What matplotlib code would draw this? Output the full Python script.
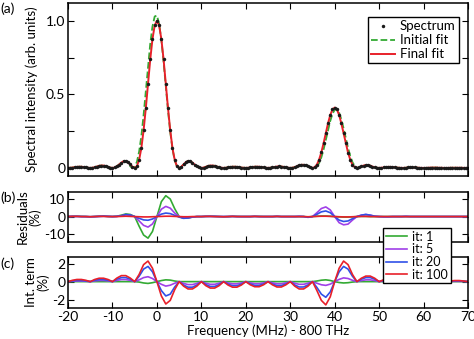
import numpy as np
import matplotlib
matplotlib.use('Agg')
import matplotlib.pyplot as plt

plt.rcParams['font.family'] = ['Lato', 'DejaVu Sans']
plt.rcParams['font.size'] = 9.5
plt.rcParams['axes.unicode_minus'] = False

# spectrum sampled every 0.5 MHz, -20 .. 70
freq_fine = np.arange(-20, 70.5, 0.5)
spectrum = [
    0.000, 0.001, 0.002, 0.005, 0.007, 0.008, 0.008, 0.006, 0.003, 0.001,
    0.000, 0.001, 0.005, 0.009, 0.014, 0.016, 0.016, 0.013, 0.007, 0.002,
    0.000, 0.003, 0.011, 0.023, 0.036, 0.045, 0.047, 0.039, 0.024, 0.008,
    0.000, 0.012, 0.055, 0.135, 0.255, 0.405, 0.573, 0.737, 0.875, 0.968,
    1.000, 0.968, 0.875, 0.737, 0.573, 0.405, 0.255, 0.135, 0.055, 0.012,
    0.000, 0.008, 0.024, 0.039, 0.047, 0.045, 0.036, 0.023, 0.011, 0.003,
    0.000, 0.002, 0.007, 0.013, 0.016, 0.016, 0.014, 0.009, 0.005, 0.001,
    0.000, 0.001, 0.003, 0.006, 0.008, 0.008, 0.007, 0.005, 0.002, 0.001,
    0.000, 0.001, 0.003, 0.006, 0.008, 0.008, 0.008, 0.006, 0.003, 0.001,
    0.000, 0.001, 0.003, 0.006, 0.009, 0.010, 0.009, 0.007, 0.004, 0.001,
    0.000, 0.001, 0.005, 0.011, 0.017, 0.021, 0.021, 0.018, 0.011, 0.004,
    0.000, 0.005, 0.023, 0.057, 0.106, 0.168, 0.236, 0.303, 0.359, 0.397,
    0.410, 0.397, 0.359, 0.302, 0.235, 0.166, 0.104, 0.056, 0.022, 0.005,
    0.000, 0.003, 0.010, 0.016, 0.019, 0.019, 0.015, 0.009, 0.004, 0.001,
    0.000, 0.001, 0.003, 0.005, 0.007, 0.007, 0.006, 0.004, 0.002, 0.001,
    0.000, 0.000, 0.001, 0.003, 0.003, 0.003, 0.003, 0.002, 0.001, 0.000,
    0.000, 0.000, 0.001, 0.002, 0.002, 0.002, 0.002, 0.001, 0.001, 0.000,
    0.000, 0.000, 0.001, 0.001, 0.001, 0.001, 0.001, 0.001, 0.000, 0.000,
    0.000]

initial_fit = [
    0.000, 0.001, 0.002, 0.005, 0.007, 0.008, 0.008, 0.006, 0.003, 0.001,
    0.000, 0.001, 0.005, 0.009, 0.014, 0.016, 0.016, 0.013, 0.007, 0.002,
    0.000, 0.003, 0.011, 0.023, 0.036, 0.045, 0.044, 0.039, 0.011, 0.000,
    0.007, 0.041, 0.111, 0.217, 0.358, 0.521, 0.690, 0.843, 0.961, 1.029,
    1.035, 0.979, 0.870, 0.722, 0.555, 0.389, 0.243, 0.129, 0.052, 0.011,
    0.000, 0.008, 0.024, 0.039, 0.047, 0.045, 0.036, 0.023, 0.011, 0.003,
    0.000, 0.002, 0.007, 0.013, 0.016, 0.016, 0.014, 0.009, 0.005, 0.001,
    0.000, 0.001, 0.003, 0.006, 0.008, 0.008, 0.007, 0.005, 0.002, 0.001,
    0.000, 0.001, 0.003, 0.006, 0.008, 0.008, 0.008, 0.006, 0.003, 0.001,
    0.000, 0.001, 0.003, 0.006, 0.009, 0.010, 0.009, 0.007, 0.004, 0.001,
    0.000, 0.001, 0.005, 0.011, 0.017, 0.021, 0.021, 0.018, 0.011, 0.004,
    0.000, 0.001, 0.010, 0.033, 0.072, 0.125, 0.189, 0.256, 0.319, 0.367,
    0.395, 0.398, 0.375, 0.330, 0.269, 0.202, 0.137, 0.081, 0.039, 0.013,
    0.002, 0.001, 0.010, 0.016, 0.019, 0.019, 0.015, 0.009, 0.004, 0.001,
    0.000, 0.001, 0.003, 0.005, 0.007, 0.007, 0.006, 0.004, 0.002, 0.001,
    0.000, 0.000, 0.001, 0.003, 0.003, 0.003, 0.003, 0.002, 0.001, 0.000,
    0.000, 0.000, 0.001, 0.002, 0.002, 0.002, 0.002, 0.001, 0.001, 0.000,
    0.000, 0.000, 0.001, 0.001, 0.001, 0.001, 0.001, 0.001, 0.000, 0.000,
    0.000]

# final fit lies on top of the measured spectrum
final_fit = list(spectrum)

# residuals and interference term, every 1 MHz, -20 .. 70
freq = np.arange(-20, 71, 1)
iterations = ['it: 1', 'it: 5', 'it: 20', 'it: 100']
colors = ['#33aa33', '#a040e8', '#3050e8', '#e8202a']

res_it1 = [
    0.0, 0.1, 0.2, 0.1, 0.0, -0.1, 0.0, 0.2, 0.3, 0.1,
    0.0, 0.2, 0.8, 1.5, 1.2, 0.0, -5.5, -10.5, -12.3, -8.5,
    0.0, 8.5, 11.9, 10.0, 4.5, 0.0, -0.9, -0.8, -0.3, 0.0,
    0.0, 0.1, 0.2, 0.1, 0.0, -0.1, 0.0, 0.1, 0.1, 0.0,
    0.0, 0.0, 0.1, 0.1, 0.0, 0.0, 0.0, 0.1, 0.0, 0.0,
    0.0, 0.0, 0.0, 0.0, -0.2, 0.0, 0.2, 0.3, 0.3, 0.2,
    0.0, -0.2, -0.3, -0.3, -0.2, 0.0, 0.1, 0.1, 0.0, 0.0,
    0.0, 0.0, 0.0, 0.0, 0.0, 0.0, 0.0, 0.0, 0.0, 0.0,
    0.0, 0.0, 0.0, 0.0, 0.0, 0.0, 0.0, 0.0, 0.0, 0.0,
    0.0]
res_it5 = [
    0.0, 0.1, 0.1, 0.0, 0.0, -0.1, 0.0, 0.1, 0.2, 0.1,
    0.0, 0.1, 0.5, 1.0, 0.8, 0.0, -2.5, -5.0, -6.0, -4.2,
    0.0, 4.2, 5.8, 4.8, 2.0, 0.0, -0.8, -0.7, -0.3, 0.0,
    0.0, 0.1, 0.1, 0.1, 0.0, 0.0, 0.0, 0.1, 0.0, 0.0,
    0.0, 0.0, 0.1, 0.0, 0.0, 0.0, 0.0, 0.1, 0.0, 0.0,
    0.0, 0.0, 0.1, 0.0, -0.4, 0.0, 2.2, 4.6, 5.5, 3.8,
    0.0, -3.5, -4.7, -4.3, -2.0, 0.0, 0.8, 1.2, 0.8, 0.2,
    0.0, -0.1, -0.1, 0.0, 0.0, 0.0, 0.1, 0.0, 0.0, 0.0,
    0.0, 0.0, 0.0, 0.0, 0.0, 0.0, 0.0, 0.0, 0.0, 0.0,
    0.0]
res_it20 = [
    0.0, 0.1, 0.1, 0.0, 0.0, -0.1, 0.0, 0.1, 0.2, 0.1,
    0.0, 0.1, 0.4, 1.2, 0.9, 0.0, -1.0, -1.9, -2.1, -1.4,
    0.0, 1.4, 2.0, 1.7, 0.7, -0.3, -1.0, -0.8, -0.2, 0.0,
    0.0, 0.1, 0.1, 0.1, 0.0, 0.0, 0.0, 0.1, 0.0, 0.0,
    0.0, 0.0, 0.1, 0.0, 0.0, 0.0, 0.0, 0.1, 0.0, 0.0,
    0.0, 0.0, 0.1, 0.0, -0.4, 0.0, 1.3, 2.7, 3.2, 2.2,
    0.0, -2.0, -2.8, -2.5, -1.2, 0.0, 0.8, 1.2, 0.8, 0.2,
    0.0, -0.1, -0.1, 0.0, 0.0, 0.0, 0.1, 0.0, 0.0, 0.0,
    0.0, 0.0, 0.0, 0.0, 0.0, 0.0, 0.0, 0.0, 0.0, 0.0,
    0.0]
res_it100 = [
    0.0, 0.1, 0.1, 0.0, 0.0, -0.1, 0.0, 0.1, 0.1, 0.0,
    0.0, 0.0, 0.1, 0.2, 0.1, 0.0, -0.1, -0.2, -0.2, -0.1,
    0.0, 0.1, 0.2, 0.2, 0.1, 0.0, -0.1, -0.1, 0.0, 0.0,
    0.0, 0.1, 0.1, 0.0, 0.0, -0.1, 0.0, 0.1, 0.0, 0.0,
    0.0, 0.0, 0.1, 0.0, 0.0, 0.0, 0.0, 0.1, 0.0, 0.0,
    0.0, 0.0, 0.0, 0.0, -0.1, 0.0, 0.1, 0.2, 0.2, 0.1,
    0.0, -0.1, -0.2, -0.2, -0.1, 0.0, 0.1, 0.1, 0.0, 0.0,
    0.0, 0.0, 0.0, 0.0, 0.0, 0.0, 0.0, 0.0, 0.0, 0.0,
    0.0, 0.0, 0.0, 0.0, 0.0, 0.0, 0.0, 0.0, 0.0, 0.0,
    0.0]

int_it1 = [
    0.0, 0.0, 0.0, 0.0, 0.0, 0.0, 0.0, 0.0, 0.0, 0.0,
    0.0, 0.0, 0.0, 0.0, 0.0, 0.0, -0.05, -0.15, -0.2, -0.12,
    0.0, 0.12, 0.2, 0.17, 0.07, 0.0, 0.0, 0.0, 0.0, 0.0,
    0.0, 0.0, 0.0, 0.0, 0.0, 0.0, 0.0, 0.0, 0.0, 0.0,
    0.0, 0.0, 0.0, 0.0, 0.0, 0.0, 0.0, 0.0, 0.0, 0.0,
    0.0, 0.0, 0.0, 0.0, 0.0, 0.0, 0.07, 0.16, 0.2, 0.13,
    0.0, -0.1, -0.15, -0.12, -0.05, 0.0, 0.0, 0.0, 0.0, 0.0,
    0.0, 0.0, 0.0, 0.0, 0.0, 0.0, 0.0, 0.0, 0.0, 0.0,
    0.0, 0.0, 0.0, 0.0, 0.0, 0.0, 0.0, 0.0, 0.0, 0.0,
    0.0]
int_it5 = [
    0.0, 0.04, 0.07, 0.07, 0.04, 0.0, 0.08, 0.13, 0.13, 0.08,
    0.0, 0.14, 0.23, 0.23, 0.14, 0.0, 0.2, 0.45, 0.55, 0.35,
    0.0, -0.3, -0.5, -0.4, -0.18, 0.0, -0.2, -0.33, -0.33, -0.2,
    0.0, -0.18, -0.3, -0.3, -0.18, 0.0, -0.15, -0.25, -0.25, -0.15,
    0.0, -0.14, -0.23, -0.23, -0.14, 0.0, -0.14, -0.24, -0.24, -0.14,
    0.0, -0.18, -0.3, -0.3, -0.18, 0.0, -0.18, -0.35, -0.42, -0.28,
    0.0, 0.25, 0.42, 0.35, 0.15, 0.0, 0.12, 0.2, 0.2, 0.12,
    0.0, 0.06, 0.1, 0.1, 0.06, 0.0, 0.04, 0.06, 0.06, 0.04,
    0.0, 0.03, 0.04, 0.04, 0.03, 0.0, 0.02, 0.03, 0.03, 0.02,
    0.0]
int_it20 = [
    0.0, 0.08, 0.13, 0.13, 0.08, 0.0, 0.15, 0.24, 0.24, 0.15,
    0.0, 0.28, 0.45, 0.45, 0.28, 0.0, 0.6, 1.4, 1.7, 1.1,
    0.0, -1.0, -1.6, -1.4, -0.6, 0.0, -0.38, -0.62, -0.62, -0.38,
    0.0, -0.33, -0.54, -0.54, -0.33, 0.0, -0.28, -0.46, -0.46, -0.28,
    0.0, -0.26, -0.42, -0.42, -0.26, 0.0, -0.27, -0.44, -0.44, -0.27,
    0.0, -0.37, -0.6, -0.6, -0.37, 0.0, -0.65, -1.4, -1.75, -1.15,
    0.0, 1.1, 1.7, 1.4, 0.6, 0.0, 0.28, 0.45, 0.45, 0.28,
    0.0, 0.15, 0.24, 0.24, 0.15, 0.0, 0.1, 0.16, 0.16, 0.1,
    0.0, 0.07, 0.11, 0.11, 0.07, 0.0, 0.05, 0.08, 0.08, 0.05,
    0.0]
int_it100 = [
    0.0, 0.15, 0.24, 0.24, 0.15, 0.0, 0.24, 0.38, 0.38, 0.24,
    0.0, 0.4, 0.67, 0.67, 0.4, 0.0, 0.8, 1.9, 2.3, 1.5,
    0.0, -1.6, -2.5, -2.1, -0.9, 0.0, -0.5, -0.82, -0.82, -0.5,
    0.0, -0.45, -0.72, -0.72, -0.45, 0.0, -0.38, -0.62, -0.62, -0.38,
    0.0, -0.35, -0.57, -0.57, -0.35, 0.0, -0.36, -0.6, -0.6, -0.36,
    0.0, -0.5, -0.82, -0.82, -0.5, 0.0, -1.0, -2.1, -2.6, -1.7,
    0.0, 1.5, 2.3, 1.9, 0.8, 0.0, 0.38, 0.62, 0.62, 0.38,
    0.0, 0.2, 0.33, 0.33, 0.2, 0.0, 0.13, 0.21, 0.21, 0.13,
    0.0, 0.09, 0.15, 0.15, 0.09, 0.0, 0.07, 0.12, 0.12, 0.07,
    0.0]

residuals = [res_it1, res_it5, res_it20, res_it100]
int_terms = [int_it1, int_it5, int_it20, int_it100]


def style_axes(ax):
    ax.set_xlim(-20, 70)
    ax.set_xticks(np.arange(-20, 71, 10))
    ax.tick_params(direction='in', top=True, right=True, length=4, width=0.8,
                   labelsize=10, pad=2)
    for s in ax.spines.values():
        s.set_linewidth(1.1)


fig = plt.figure(figsize=(4.74, 3.39), dpi=100)

# (a) spectrum and fits
ax1 = fig.add_axes([0.1435, 0.4808, 0.8439, 0.5102])
ax1.plot(freq_fine, initial_fit, '--', color=colors[0], lw=1.3, label='Initial fit')
ax1.plot(freq_fine, final_fit, '-', color=colors[3], lw=1.4, label='Final fit')
ax1.plot(freq_fine, spectrum, 'o', color='#1a1a1a', ms=2.5, mew=0, label='Spectrum')
style_axes(ax1)
ax1.set_ylim(-0.055, 1.12)
ax1.set_yticks([0, 0.25, 0.5, 0.75, 1.0])
ax1.set_yticklabels(['0', '', '0.5', '', '1.0'])
ax1.set_xticklabels([])
ax1.set_ylabel('Spectral intensity (arb. units)', labelpad=6)
h, l = ax1.get_legend_handles_labels()
leg1 = ax1.legend([h[2], h[0], h[1]], [l[2], l[0], l[1]], loc='upper right',
                  bbox_to_anchor=(0.9775, 0.92), borderaxespad=0, numpoints=1,
                  fancybox=False, edgecolor='black', framealpha=1,
                  handlelength=1.8, handletextpad=0.4, labelspacing=0.15,
                  borderpad=0.25, fontsize=9.5)
leg1.get_frame().set_linewidth(1.0)

# (b) residuals
ax2 = fig.add_axes([0.1435, 0.2861, 0.8439, 0.1475])
for vals, c, lab in zip(residuals, colors, iterations):
    ax2.plot(freq, vals, color=c, lw=1.2, label=lab)
style_axes(ax2)
ax2.set_ylim(-14.5, 14)
ax2.set_yticks([-10, 0, 10])
ax2.set_xticklabels([])
ax2.set_ylabel('Residuals\n(%)', labelpad=2, linespacing=0.95)

# (c) interference term
ax3 = fig.add_axes([0.1435, 0.0914, 0.8439, 0.1504])
for vals, c in zip(int_terms, colors):
    ax3.plot(freq, vals, color=c, lw=1.2)
style_axes(ax3)
ax3.set_ylim(-2.95, 2.75)
ax3.set_yticks([-2, 0, 2])
ax3.set_xlabel('Frequency (MHz) - 800 THz', labelpad=1)
ax3.set_ylabel('Int. term\n(%)', labelpad=2, linespacing=0.95)

fig.align_ylabels([ax1, ax2, ax3])

h2, l2 = ax2.get_legend_handles_labels()
leg2 = fig.legend(h2, l2, loc='upper right', bbox_to_anchor=(0.964, 0.345),
                  fancybox=False, edgecolor='black', framealpha=1,
                  handlelength=1.7, handletextpad=0.45, labelspacing=0.05,
                  borderpad=0.2, fontsize=9)
leg2.get_frame().set_linewidth(1.0)

fig.text(0.0, 0.963, '(a)', fontsize=10)
fig.text(0.0, 0.405, '(b)', fontsize=10)
fig.text(0.0, 0.208, '(c)', fontsize=10)

fig.savefig('out.png', dpi=100)
